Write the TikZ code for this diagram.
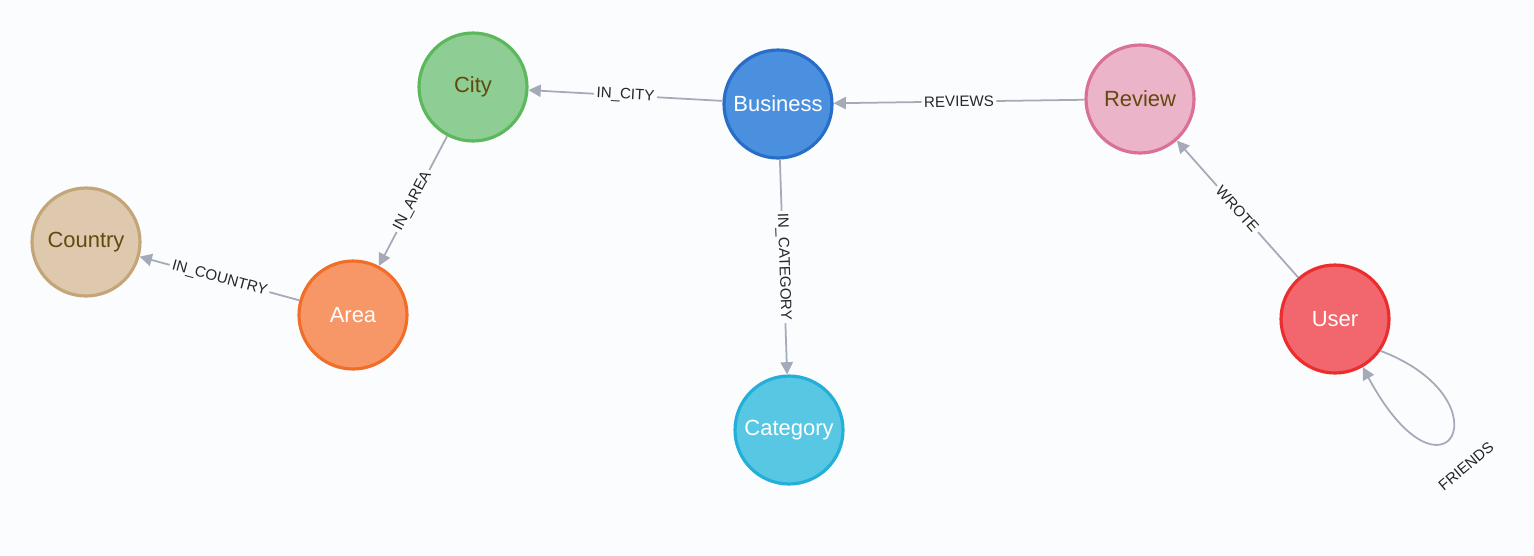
\documentclass[tikz,border=0pt]{standalone}
\usepackage{fontspec}
\setmainfont{Liberation Sans}
\usetikzlibrary{arrows.meta}
\definecolor{bg}{RGB}{251,252,253}
\definecolor{edgec}{RGB}{165,170,184}
\definecolor{darktxt}{RGB}{96,74,14}
\begin{document}
\begin{tikzpicture}[x=0.02cm,y=-0.02cm,
  ent/.style={circle,minimum size=2.16cm,inner sep=0pt,line width=1.8pt,font=\fontsize{12.5}{14}\selectfont},
  rel/.style={draw=edgec,line width=1pt,-{Triangle[length=7pt,width=7pt]}},
  lab/.style={font=\fontsize{8.6}{10}\selectfont,fill=bg,inner sep=1.5pt,sloped,text=black!85}]
\fill[bg] (0,0) rectangle (1534,555);
\node[ent,fill={rgb,255:red,142;green,205;blue,147},draw={rgb,255:red,92;green,184;blue,92},text=darktxt] (city) at (473,87) {City};
\node[ent,fill={rgb,255:red,74;green,144;blue,222},draw={rgb,255:red,40;green,110;blue,200},text=white] (bus) at (778,104) {Business};
\node[ent,fill={rgb,255:red,236;green,180;blue,201},draw={rgb,255:red,218;green,112;blue,150},text=darktxt] (rev) at (1140,99) {Review};
\node[ent,fill={rgb,255:red,222;green,201;blue,174},draw={rgb,255:red,195;green,165;blue,120},text=darktxt] (cty) at (86,242) {Country};
\node[ent,fill={rgb,255:red,247;green,151;blue,103},draw={rgb,255:red,240;green,110;blue,40},text=white] (area) at (353,315) {Area};
\node[ent,fill={rgb,255:red,87;green,199;blue,227},draw={rgb,255:red,35;green,175;blue,215},text=white] (cat) at (789,430) {Category};
\node[ent,fill={rgb,255:red,242;green,102;blue,110},draw={rgb,255:red,235;green,45;blue,45},text=white] (user) at (1335,319) {User};
\draw[rel] (bus) -- node[lab]{IN\_CITY} (city);
\draw[rel] (rev) -- node[lab]{REVIEWS} (bus);
\draw[rel] (city) -- node[lab]{IN\_AREA} (area);
\draw[rel] (area) -- node[lab]{IN\_COUNTRY} (cty);
\draw[rel] (bus) -- node[lab]{IN\_CATEGORY} (cat);
\draw[rel] (user) -- node[lab]{WROTE} (rev);
\draw[rel] (user.-35) .. controls (1510,400) and (1445,520) .. (user.-60);
\node[font=\fontsize{8.6}{10}\selectfont,rotate=40,text=black!85] (fr) at (1466,466) {FRIENDS};
\end{tikzpicture}
\end{document}
